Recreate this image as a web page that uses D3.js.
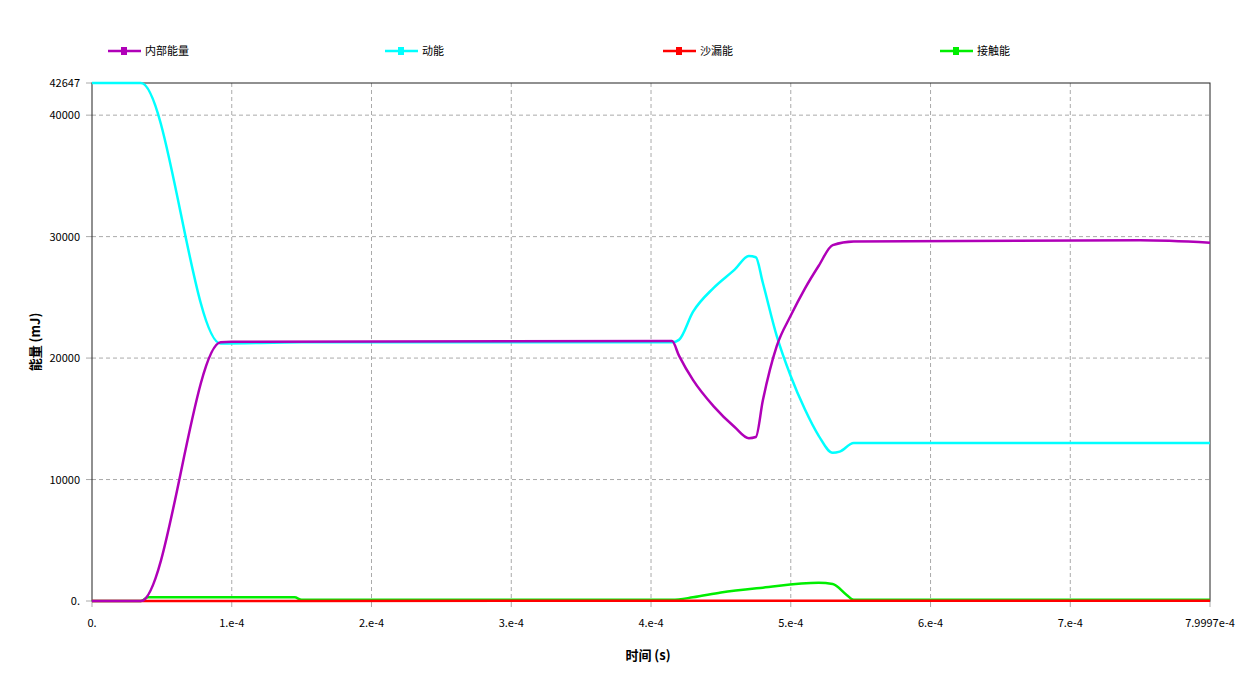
<!DOCTYPE html><html><head><meta charset="utf-8"><script src="https://cdn.jsdelivr.net/npm/d3@7"></script>
<style>body{margin:0;background:#fff;font-family:"Noto Sans CJK SC","DejaVu Sans",sans-serif}</style></head><body><svg id="c" width="1239" height="685"></svg>
<script>
const seriesNames=["内部能量","动能","沙漏能","接触能"];
const colors=["#b000b8","#00ffff","#ff0000","#00ee00"];
const internalT=[0,0.35,0.92,1.0,4.15,4.2,4.3,4.45,4.6,4.7,4.75,4.8,4.9,5.0,5.1,5.2,5.3,5.45,7.5,7.9997];
const internalV=[0,0,21300,21350,21400,20200,18200,16000,14300,13400,13500,16500,21000,23500,25700,27600,29300,29600,29700,29500];
const kineticT=[0,0.35,0.92,1.5,4.15,4.2,4.3,4.45,4.6,4.7,4.75,4.8,4.9,5.0,5.1,5.2,5.3,5.35,5.45,7.9997];
const kineticV=[42647,42647,21200,21300,21300,21500,23800,25800,27300,28400,28300,26200,21800,18500,15800,13600,12200,12300,13000,13000];
const hourglassT=[0,4.3,4.5,4.6,4.7,7.9997];
const hourglassV=[0,20,30,30,20,20];
const contactT=[0,0.35,0.4,1.45,1.5,4.15,4.3,4.5,4.8,5.2,5.3,5.4,5.45,7.9997];
const contactV=[0,0,300,300,100,100,300,700,1100,1500,1400,500,100,100];
const xTicks=[0,1,2,3,4,5,6,7,7.9997];
const xTickLabels=["0.","1.e-4","2.e-4","3.e-4","4.e-4","5.e-4","6.e-4","7.e-4","7.9997e-4"];
const yTicks=[0,10000,20000,30000,40000,42647];
const yTickLabels=["0.","10000","20000","30000","40000","42647"];
const svg=d3.select("#c");
const x=d3.scaleLinear().domain([0,7.9997]).range([92,1210]);
const y=d3.scaleLinear().domain([0,42647]).range([601,83]);
const g=svg.append("g");
yTicks.forEach((t,i)=>{ if(t>0&&t<42647) g.append("line").attr("x1",92).attr("x2",1210).attr("y1",y(t)).attr("y2",y(t)).attr("stroke","#aaa").attr("stroke-dasharray","4,3");
 g.append("line").attr("x1",86).attr("x2",92).attr("y1",y(t)).attr("y2",y(t)).attr("stroke","#aaa");
 g.append("text").attr("x",80).attr("y",y(t)+4).attr("text-anchor","end").attr("font-size",11).text(yTickLabels[i]);});
xTicks.forEach((t,i)=>{ if(t>0&&t<7.9) g.append("line").attr("x1",x(t)).attr("x2",x(t)).attr("y1",83).attr("y2",601).attr("stroke","#aaa").attr("stroke-dasharray","4,3");
 g.append("line").attr("x1",x(t)).attr("x2",x(t)).attr("y1",601).attr("y2",607).attr("stroke","#aaa");
 g.append("text").attr("x",x(t)).attr("y",627).attr("text-anchor","middle").attr("font-size",11).text(xTickLabels[i]);});
g.append("rect").attr("x",92).attr("y",83).attr("width",1118).attr("height",518).attr("fill","none").attr("stroke","#222");
const data=[[internalT,internalV],[kineticT,kineticV],[hourglassT,hourglassV],[contactT,contactV]];
const line=d3.line().x(d=>x(d[0])).y(d=>y(d[1])).curve(d3.curveMonotoneX);
[3,2,1,0].forEach(i=>{const pts=data[i][0].map((t,j)=>[t,data[i][1][j]]);
 g.append("path").attr("d",line(pts)).attr("fill","none").attr("stroke",colors[i]).attr("stroke-width",2.5);});
const lx=[108,385,663,940];
seriesNames.forEach((n,i)=>{const L=g.append("g");
 L.append("line").attr("x1",lx[i]).attr("x2",lx[i]+33).attr("y1",51).attr("y2",51).attr("stroke",colors[i]).attr("stroke-width",2.5);
 L.append("rect").attr("x",lx[i]+13).attr("y",47).attr("width",6).attr("height",8).attr("fill",colors[i]);
 L.append("text").attr("x",lx[i]+37).attr("y",55).attr("font-size",11).text(n);});
g.append("text").attr("x",648).attr("y",660).attr("text-anchor","middle").attr("font-size",13).attr("font-weight","bold").text("时间 (s)");
g.append("text").attr("transform","translate(40,342) rotate(-90)").attr("text-anchor","middle").attr("font-size",13).attr("font-weight","bold").text("能量 (mJ)");
</script></body></html>
